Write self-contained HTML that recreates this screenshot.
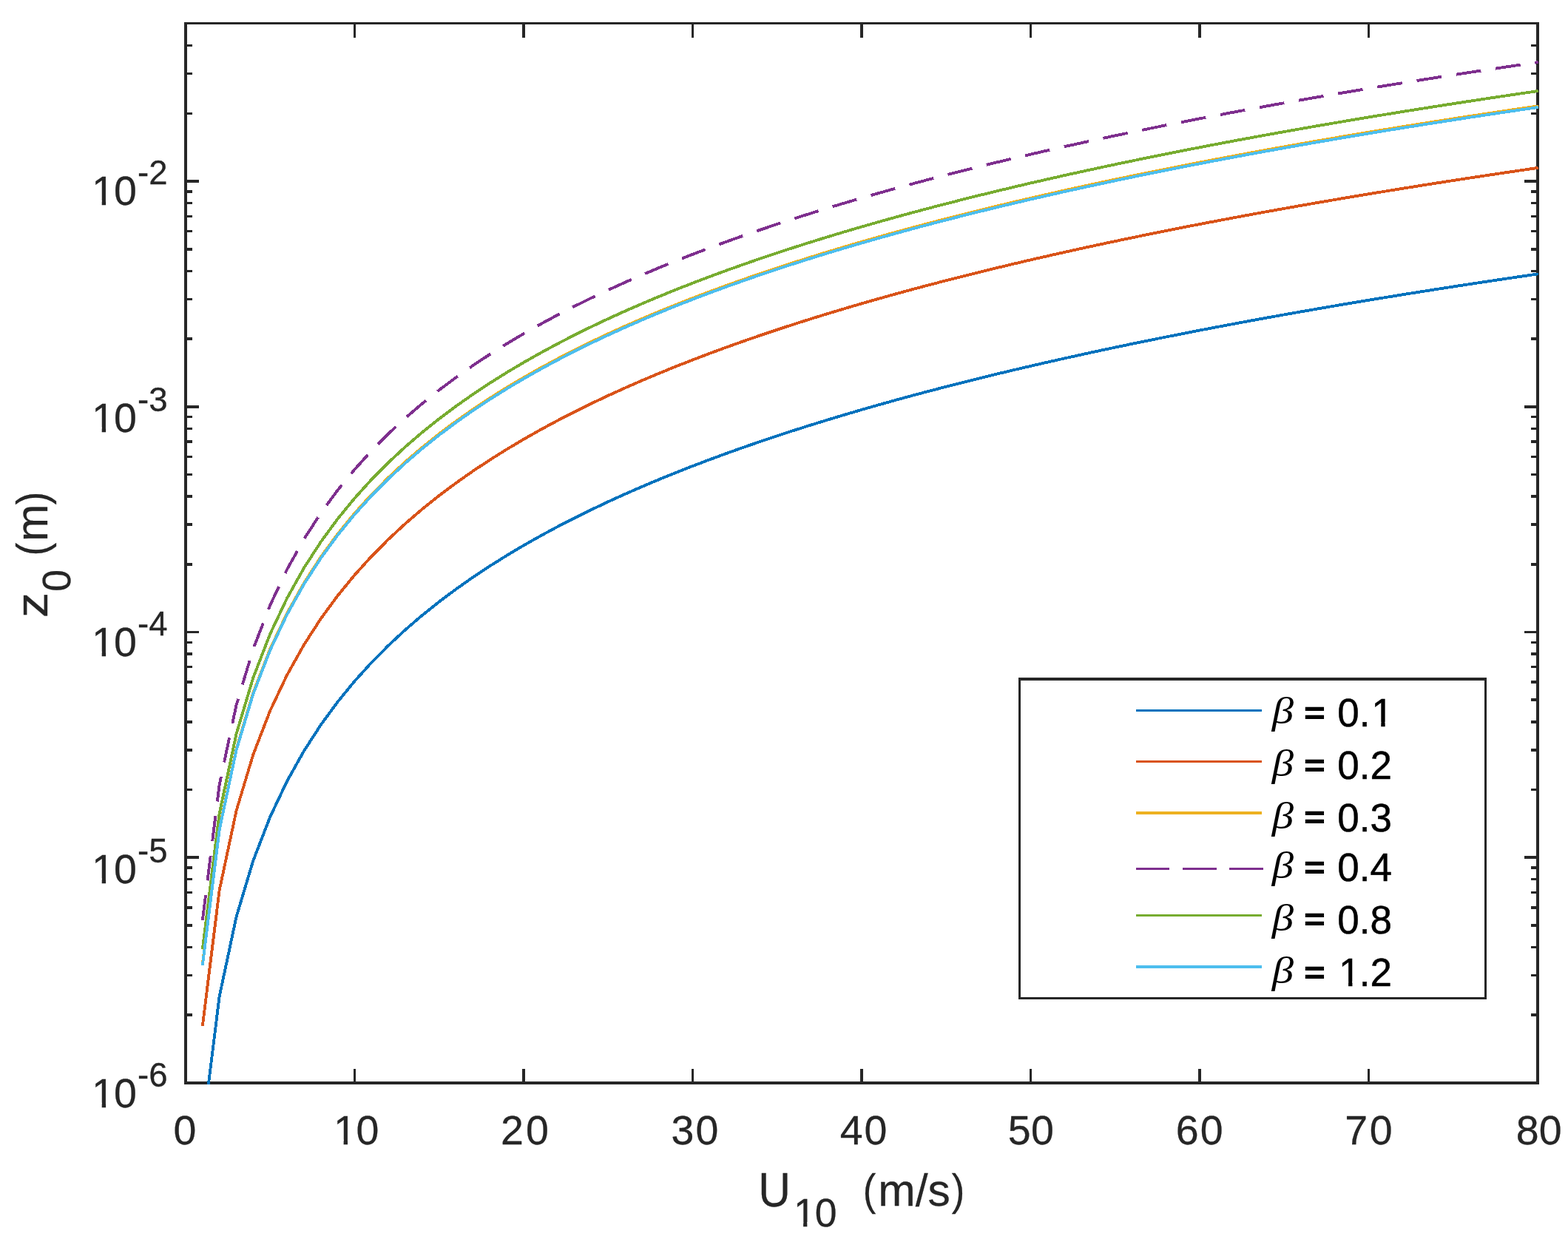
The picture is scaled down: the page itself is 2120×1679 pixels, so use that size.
<!DOCTYPE html>
<html lang="en"><head><meta charset="utf-8"><title>Roughness length z0 versus wind speed U10</title>
<style>html,body{margin:0;padding:0;background:#fff}body{width:2120px;height:1679px;overflow:hidden}svg{display:block}text{font-family:'Liberation Sans',sans-serif;white-space:pre}.b{font-family:'Liberation Serif',serif;font-style:italic}</style></head><body>
<svg width="2120" height="1679" viewBox="0 0 2120 1679">
<rect x="0" y="0" width="2120" height="1679" fill="#ffffff"/>
<defs><clipPath id="plotclip"><rect x="251" y="29.5" width="1829" height="1436.5"/></clipPath>
<clipPath id="c1t"><path clip-rule="evenodd" d="M-500,-300H700V300H-500ZM2.73,-6.45H13.73V2.5H2.73ZM19.09,-6.45H29.66V2.5H19.09Z"/></clipPath><clipPath id="c1s"><path clip-rule="evenodd" d="M-500,-300H700V300H-500ZM2.58,-6.3H13.22V2.5H2.58ZM18.41,-6.3H28.64V2.5H18.41Z"/></clipPath><clipPath id="c1l"><path clip-rule="evenodd" d="M-500,-300H700V300H-500ZM2.54,-6.26H13V2.5H2.54ZM18.34,-6.26H28.39V2.5H18.34Z"/></clipPath></defs>
<g fill="#262626" shape-rendering="crispEdges">
<rect x="249" y="30" width="4" height="1436"/>
<rect x="2077" y="30" width="4" height="1436"/>
<rect x="249" y="30" width="1832" height="3"/>
<rect x="249" y="1462" width="1832" height="4"/>
<rect x="478" y="1445" width="3" height="19"/>
<rect x="478" y="31.5" width="3" height="19.5"/>
<rect x="706" y="1445" width="4" height="19"/>
<rect x="706" y="31.5" width="4" height="19.5"/>
<rect x="935" y="1445" width="3" height="19"/>
<rect x="935" y="31.5" width="3" height="19.5"/>
<rect x="1163" y="1445" width="4" height="19"/>
<rect x="1163" y="31.5" width="4" height="19.5"/>
<rect x="1392" y="1445" width="3" height="19"/>
<rect x="1392" y="31.5" width="3" height="19.5"/>
<rect x="1620" y="1445" width="4" height="19"/>
<rect x="1620" y="31.5" width="4" height="19.5"/>
<rect x="1849" y="1445" width="3" height="19"/>
<rect x="1849" y="31.5" width="3" height="19.5"/>
<rect x="251" y="1370" width="9" height="4"/>
<rect x="2070" y="1370" width="9" height="4"/>
<rect x="251" y="1317" width="9" height="3"/>
<rect x="2070" y="1317" width="9" height="3"/>
<rect x="251" y="1279" width="9" height="3"/>
<rect x="2070" y="1279" width="9" height="3"/>
<rect x="251" y="1249" width="9" height="4"/>
<rect x="2070" y="1249" width="9" height="4"/>
<rect x="251" y="1225" width="9" height="4"/>
<rect x="2070" y="1225" width="9" height="4"/>
<rect x="251" y="1205" width="9" height="3"/>
<rect x="2070" y="1205" width="9" height="3"/>
<rect x="251" y="1187" width="9" height="3"/>
<rect x="2070" y="1187" width="9" height="3"/>
<rect x="251" y="1171" width="9" height="4"/>
<rect x="2070" y="1171" width="9" height="4"/>
<rect x="251" y="1157" width="18" height="4"/>
<rect x="2061" y="1157" width="18" height="4"/>
<rect x="251" y="1066" width="9" height="3"/>
<rect x="2070" y="1066" width="9" height="3"/>
<rect x="251" y="1012" width="9" height="4"/>
<rect x="2070" y="1012" width="9" height="4"/>
<rect x="251" y="974" width="9" height="4"/>
<rect x="2070" y="974" width="9" height="4"/>
<rect x="251" y="944" width="9" height="4"/>
<rect x="2070" y="944" width="9" height="4"/>
<rect x="251" y="920" width="9" height="4"/>
<rect x="2070" y="920" width="9" height="4"/>
<rect x="251" y="900" width="9" height="3"/>
<rect x="2070" y="900" width="9" height="3"/>
<rect x="251" y="882" width="9" height="4"/>
<rect x="2070" y="882" width="9" height="4"/>
<rect x="251" y="867" width="9" height="3"/>
<rect x="2070" y="867" width="9" height="3"/>
<rect x="251" y="853" width="18" height="3"/>
<rect x="2061" y="853" width="18" height="3"/>
<rect x="251" y="761" width="9" height="4"/>
<rect x="2070" y="761" width="9" height="4"/>
<rect x="251" y="707" width="9" height="4"/>
<rect x="2070" y="707" width="9" height="4"/>
<rect x="251" y="669" width="9" height="4"/>
<rect x="2070" y="669" width="9" height="4"/>
<rect x="251" y="640" width="9" height="3"/>
<rect x="2070" y="640" width="9" height="3"/>
<rect x="251" y="616" width="9" height="3"/>
<rect x="2070" y="616" width="9" height="3"/>
<rect x="251" y="595" width="9" height="4"/>
<rect x="2070" y="595" width="9" height="4"/>
<rect x="251" y="578" width="9" height="3"/>
<rect x="2070" y="578" width="9" height="3"/>
<rect x="251" y="562" width="9" height="3"/>
<rect x="2070" y="562" width="9" height="3"/>
<rect x="251" y="548" width="18" height="4"/>
<rect x="2061" y="548" width="18" height="4"/>
<rect x="251" y="456" width="9" height="4"/>
<rect x="2070" y="456" width="9" height="4"/>
<rect x="251" y="403" width="9" height="3"/>
<rect x="2070" y="403" width="9" height="3"/>
<rect x="251" y="365" width="9" height="3"/>
<rect x="2070" y="365" width="9" height="3"/>
<rect x="251" y="335" width="9" height="4"/>
<rect x="2070" y="335" width="9" height="4"/>
<rect x="251" y="311" width="9" height="3"/>
<rect x="2070" y="311" width="9" height="3"/>
<rect x="251" y="291" width="9" height="3"/>
<rect x="2070" y="291" width="9" height="3"/>
<rect x="251" y="273" width="9" height="3"/>
<rect x="2070" y="273" width="9" height="3"/>
<rect x="251" y="257" width="9" height="4"/>
<rect x="2070" y="257" width="9" height="4"/>
<rect x="251" y="243" width="18" height="4"/>
<rect x="2061" y="243" width="18" height="4"/>
<rect x="251" y="152" width="9" height="3"/>
<rect x="2070" y="152" width="9" height="3"/>
<rect x="251" y="98" width="9" height="3"/>
<rect x="2070" y="98" width="9" height="3"/>
<rect x="251" y="60" width="9" height="3"/>
<rect x="2070" y="60" width="9" height="3"/>
</g>
<g clip-path="url(#plotclip)" fill="none" stroke-width="3.9" stroke-linejoin="round" stroke-linecap="butt" shape-rendering="crispEdges">
<polyline stroke="#0072BD" points="273.85,1530.18 296.7,1346.73 319.55,1239.42 342.4,1163.29 365.25,1104.23 388.1,1055.98 410.95,1015.18 433.8,979.84 456.65,948.67 479.5,920.78 502.35,895.56 525.2,872.53 548.05,851.34 570.9,831.73 593.75,813.47 616.6,796.39 639.45,780.35 662.3,765.22 685.15,750.91 708,737.33 730.85,724.42 753.7,712.11 776.55,700.34 799.4,689.08 822.25,678.28 845.1,667.9 867.95,657.91 890.8,648.28 913.65,639 936.5,630.02 959.35,621.34 982.2,612.94 1005.05,604.8 1027.9,596.9 1050.75,589.23 1073.6,581.77 1096.45,574.52 1119.3,567.46 1142.15,560.59 1165,553.89 1187.85,547.35 1210.7,540.97 1233.55,534.74 1256.4,528.66 1279.25,522.71 1302.1,516.9 1324.95,511.2 1347.8,505.63 1370.65,500.18 1393.5,494.83 1416.35,489.59 1439.2,484.45 1462.05,479.41 1484.9,474.46 1507.75,469.6 1530.6,464.83 1553.45,460.15 1576.3,455.55 1599.15,451.02 1622,446.58 1644.85,442.2 1667.7,437.9 1690.55,433.66 1713.4,429.49 1736.25,425.39 1759.1,421.35 1781.95,417.37 1804.8,413.45 1827.65,409.59 1850.5,405.78 1873.35,402.02 1896.2,398.32 1919.05,394.67 1941.9,391.07 1964.75,387.52 1987.6,384.01 2010.45,380.55 2033.3,377.14 2056.15,373.77 2079,370.44 2079.7,370.34"/>
<polyline stroke="#D95319" points="273.85,1386.68 296.7,1203.23 319.55,1095.92 342.4,1019.78 365.25,960.73 388.1,912.47 410.95,871.68 433.8,836.34 456.65,805.16 479.5,777.28 502.35,752.05 525.2,729.03 548.05,707.84 570.9,688.23 593.75,669.97 616.6,652.89 639.45,636.84 662.3,621.72 685.15,607.41 708,593.83 730.85,580.92 753.7,568.61 776.55,556.84 799.4,545.58 822.25,534.77 845.1,524.39 867.95,514.41 890.8,504.78 913.65,495.49 936.5,486.52 959.35,477.84 982.2,469.44 1005.05,461.3 1027.9,453.4 1050.75,445.72 1073.6,438.27 1096.45,431.02 1119.3,423.96 1142.15,417.08 1165,410.38 1187.85,403.85 1210.7,397.47 1233.55,391.24 1256.4,385.16 1279.25,379.21 1302.1,373.39 1324.95,367.7 1347.8,362.13 1370.65,356.67 1393.5,351.33 1416.35,346.09 1439.2,340.95 1462.05,335.9 1484.9,330.96 1507.75,326.1 1530.6,321.33 1553.45,316.65 1576.3,312.05 1599.15,307.52 1622,303.07 1644.85,298.7 1667.7,294.39 1690.55,290.16 1713.4,285.99 1736.25,281.89 1759.1,277.85 1781.95,273.87 1804.8,269.95 1827.65,266.08 1850.5,262.28 1873.35,258.52 1896.2,254.82 1919.05,251.17 1941.9,247.57 1964.75,244.02 1987.6,240.51 2010.45,237.05 2033.3,233.64 2056.15,230.26 2079,226.94 2079.7,226.83"/>
<polyline stroke="#EDB120" points="273.85,1303.17 296.7,1119.72 319.55,1012.41 342.4,936.28 365.25,877.22 388.1,828.97 410.95,788.17 433.8,752.83 456.65,721.66 479.5,693.77 502.35,668.55 525.2,645.52 548.05,624.33 570.9,604.72 593.75,586.46 616.6,569.38 639.45,553.33 662.3,538.21 685.15,523.9 708,510.32 730.85,497.41 753.7,485.1 776.55,473.33 799.4,462.07 822.25,451.27 845.1,440.89 867.95,430.9 890.8,421.27 913.65,411.99 936.5,403.01 959.35,394.33 982.2,385.93 1005.05,377.79 1027.9,369.89 1050.75,362.22 1073.6,354.76 1096.45,347.51 1119.3,340.45 1142.15,333.58 1165,326.88 1187.85,320.34 1210.7,313.96 1233.55,307.73 1256.4,301.65 1279.25,295.7 1302.1,289.89 1324.95,284.19 1347.8,278.62 1370.65,273.16 1393.5,267.82 1416.35,262.58 1439.2,257.44 1462.05,252.4 1484.9,247.45 1507.75,242.59 1530.6,237.82 1553.45,233.14 1576.3,228.54 1599.15,224.01 1622,219.57 1644.85,215.19 1667.7,210.89 1690.55,206.65 1713.4,202.48 1736.25,198.38 1759.1,194.34 1781.95,190.36 1804.8,186.44 1827.65,182.58 1850.5,178.77 1873.35,175.01 1896.2,171.31 1919.05,167.66 1941.9,164.06 1964.75,160.51 1987.6,157 2010.45,153.54 2033.3,150.13 2056.15,146.76 2079,143.43 2079.7,143.33"/>
<polyline stroke="#7E2F8E" stroke-dasharray="33.9 20" points="273.85,1243.96 296.7,1060.52 319.55,953.21 342.4,877.07 365.25,818.01 388.1,769.76 410.95,728.96 433.8,693.62 456.65,662.45 479.5,634.56 502.35,609.34 525.2,586.31 548.05,565.13 570.9,545.51 593.75,527.25 616.6,510.17 639.45,494.13 662.3,479 685.15,464.69 708,451.12 730.85,438.2 753.7,425.89 776.55,414.13 799.4,402.86 822.25,392.06 845.1,381.68 867.95,371.69 890.8,362.07 913.65,352.78 936.5,343.81 959.35,335.13 982.2,326.73 1005.05,318.58 1027.9,310.68 1050.75,303.01 1073.6,295.55 1096.45,288.3 1119.3,281.24 1142.15,274.37 1165,267.67 1187.85,261.13 1210.7,254.76 1233.55,248.53 1256.4,242.44 1279.25,236.5 1302.1,230.68 1324.95,224.99 1347.8,219.42 1370.65,213.96 1393.5,208.61 1416.35,203.37 1439.2,198.23 1462.05,193.19 1484.9,188.24 1507.75,183.39 1530.6,178.62 1553.45,173.93 1576.3,169.33 1599.15,164.81 1622,160.36 1644.85,155.98 1667.7,151.68 1690.55,147.45 1713.4,143.28 1736.25,139.17 1759.1,135.13 1781.95,131.15 1804.8,127.23 1827.65,123.37 1850.5,119.56 1873.35,115.81 1896.2,112.11 1919.05,108.46 1941.9,104.85 1964.75,101.3 1987.6,97.8 2010.45,94.34 2033.3,90.92 2056.15,87.55 2079,84.22 2079.7,84.12"/>
<polyline stroke="#77AC30" points="273.85,1282.86 296.7,1099.41 319.55,992.1 342.4,915.96 365.25,856.9 388.1,808.65 410.95,767.85 433.8,732.51 456.65,701.34 479.5,673.46 502.35,648.23 525.2,625.2 548.05,604.02 570.9,584.41 593.75,566.15 616.6,549.07 639.45,533.02 662.3,517.89 685.15,503.58 708,490.01 730.85,477.1 753.7,464.78 776.55,453.02 799.4,441.76 822.25,430.95 845.1,420.57 867.95,410.58 890.8,400.96 913.65,391.67 936.5,382.7 959.35,374.02 982.2,365.62 1005.05,357.47 1027.9,349.57 1050.75,341.9 1073.6,334.45 1096.45,327.19 1119.3,320.14 1142.15,313.26 1165,306.56 1187.85,300.03 1210.7,293.65 1233.55,287.42 1256.4,281.34 1279.25,275.39 1302.1,269.57 1324.95,263.88 1347.8,258.31 1370.65,252.85 1393.5,247.5 1416.35,242.26 1439.2,237.12 1462.05,232.08 1484.9,227.14 1507.75,222.28 1530.6,217.51 1553.45,212.83 1576.3,208.22 1599.15,203.7 1622,199.25 1644.85,194.88 1667.7,190.57 1690.55,186.34 1713.4,182.17 1736.25,178.07 1759.1,174.03 1781.95,170.05 1804.8,166.13 1827.65,162.26 1850.5,158.45 1873.35,154.7 1896.2,151 1919.05,147.35 1941.9,143.75 1964.75,140.19 1987.6,136.69 2010.45,133.23 2033.3,129.81 2056.15,126.44 2079,123.11 2079.7,123.01"/>
<polyline stroke="#4DBEEE" points="273.85,1304.85 296.7,1121.4 319.55,1014.09 342.4,937.96 365.25,878.9 388.1,830.65 410.95,789.85 433.8,754.51 456.65,723.34 479.5,695.45 502.35,670.23 525.2,647.2 548.05,626.01 570.9,606.4 593.75,588.14 616.6,571.06 639.45,555.01 662.3,539.89 685.15,525.58 708,512 730.85,499.09 753.7,486.78 776.55,475.01 799.4,463.75 822.25,452.95 845.1,442.57 867.95,432.58 890.8,422.95 913.65,413.67 936.5,404.69 959.35,396.01 982.2,387.61 1005.05,379.47 1027.9,371.57 1050.75,363.9 1073.6,356.44 1096.45,349.19 1119.3,342.13 1142.15,335.26 1165,328.56 1187.85,322.02 1210.7,315.64 1233.55,309.41 1256.4,303.33 1279.25,297.38 1302.1,291.57 1324.95,285.87 1347.8,280.3 1370.65,274.84 1393.5,269.5 1416.35,264.26 1439.2,259.12 1462.05,254.08 1484.9,249.13 1507.75,244.27 1530.6,239.5 1553.45,234.82 1576.3,230.22 1599.15,225.69 1622,221.25 1644.85,216.87 1667.7,212.57 1690.55,208.33 1713.4,204.16 1736.25,200.06 1759.1,196.02 1781.95,192.04 1804.8,188.12 1827.65,184.26 1850.5,180.45 1873.35,176.69 1896.2,172.99 1919.05,169.34 1941.9,165.74 1964.75,162.19 1987.6,158.68 2010.45,155.22 2033.3,151.81 2056.15,148.44 2079,145.11 2079.7,145.01"/>
</g>
<g font-size="55.5" fill="#262626" stroke="#262626" stroke-width="0.3">
<text><tspan x="234.6" y="1547">0</tspan></text>
<text transform="translate(450.9 1547)" clip-path="url(#c1t)"><tspan x="0" y="0">1</tspan><tspan x="30.5" y="0">0</tspan></text>
<text><tspan x="677" y="1547">2</tspan><tspan x="711.1" y="1547">0</tspan></text>
<text><tspan x="907.5" y="1547">3</tspan><tspan x="940.4" y="1547">0</tspan></text>
<text><tspan x="1135.7" y="1547">4</tspan><tspan x="1168.4" y="1547">0</tspan></text>
<text><tspan x="1362.7" y="1547">5</tspan><tspan x="1393.9" y="1547">0</tspan></text>
<text><tspan x="1589.7" y="1547">6</tspan><tspan x="1622.7" y="1547">0</tspan></text>
<text><tspan x="1818.2" y="1547">7</tspan><tspan x="1851.7" y="1547">0</tspan></text>
<text><tspan x="2049.7" y="1547">8</tspan><tspan x="2080.7" y="1547">0</tspan></text>
</g>
<g font-size="55.5" fill="#262626" stroke="#262626" stroke-width="0.3">
<text transform="translate(124 277.4)" clip-path="url(#c1t)"><tspan x="0" y="0">1</tspan><tspan x="30.07" y="0">0</tspan><tspan x="62" y="-28" font-size="45.5">-2</tspan></text>
<text transform="translate(124 583.9)" clip-path="url(#c1t)"><tspan x="0" y="0">1</tspan><tspan x="30.07" y="0">0</tspan><tspan x="62" y="-28" font-size="45.5">-3</tspan></text>
<text transform="translate(124 887.1)" clip-path="url(#c1t)"><tspan x="0" y="0">1</tspan><tspan x="30.07" y="0">0</tspan><tspan x="62" y="-28" font-size="45.5">-4</tspan></text>
<text transform="translate(124 1193.8)" clip-path="url(#c1t)"><tspan x="0" y="0">1</tspan><tspan x="30.07" y="0">0</tspan><tspan x="62" y="-28" font-size="45.5">-5</tspan></text>
<text transform="translate(124 1497.3)" clip-path="url(#c1t)"><tspan x="0" y="0">1</tspan><tspan x="30.07" y="0">0</tspan><tspan x="62" y="-28" font-size="45.5">-6</tspan></text>
</g>
<text transform="translate(1072.9 1658.4)" clip-path="url(#c1s)" font-size="60.5" fill="#262626" stroke="#262626" stroke-width="0.3"><tspan x="-47.6" y="-27.9" font-size="64.13" textLength="43.69" lengthAdjust="spacingAndGlyphs">U</tspan><tspan x="0" y="0" font-size="53.5">1</tspan><tspan x="28.95" y="0" font-size="53.5">0</tspan><tspan x="67.1" y="-28.7"> </tspan><tspan x="93.95" y="-29.1" font-size="59.59" textLength="17.47" lengthAdjust="spacingAndGlyphs">(</tspan><tspan x="114.4" y="-28.7">m/s</tspan><tspan x="213.8" y="-29.1" font-size="59.59" textLength="17.47" lengthAdjust="spacingAndGlyphs">)</tspan></text>
<text transform="translate(64.2 834.9) rotate(-90)" font-size="60.5" fill="#262626" stroke="#262626" stroke-width="0.3"><tspan x="0" y="0" font-size="60.5" textLength="34.18" lengthAdjust="spacingAndGlyphs">z</tspan><tspan x="35.1" y="31.2" font-size="53.5">0</tspan><tspan x="64.9" y="0"> </tspan><tspan x="83.65" y="-0.4" font-size="59.59" textLength="17.47" lengthAdjust="spacingAndGlyphs">(</tspan><tspan x="102.8" y="0">m</tspan><tspan x="152.6" y="-0.4" font-size="59.59" textLength="17.47" lengthAdjust="spacingAndGlyphs">)</tspan></text>
<rect x="1378" y="917" width="631" height="433" fill="#ffffff"/>
<g fill="#262626" shape-rendering="crispEdges">
<rect x="1377" y="916" width="3" height="435"/>
<rect x="2007" y="916" width="3" height="435"/>
<rect x="1377" y="916" width="633" height="4"/>
<rect x="1377" y="1348" width="633" height="3"/>
</g>
<g shape-rendering="crispEdges">
<g fill="#0072BD"><rect x="1536" y="959" width="170" height="3"/></g>
<g fill="#D95319"><rect x="1536" y="1028" width="170" height="3"/></g>
<g fill="#EDB120"><rect x="1536" y="1097" width="170" height="4"/></g>
<g fill="#7E2F8E"><rect x="1536" y="1173" width="45" height="3"/><rect x="1599" y="1173" width="46" height="3"/><rect x="1662" y="1173" width="46" height="3"/></g>
<g fill="#77AC30"><rect x="1536" y="1236" width="170" height="3"/></g>
<g fill="#4DBEEE"><rect x="1536" y="1305" width="170" height="4"/></g>
</g>
<g fill="#000000" stroke="#000000" stroke-width="0.5" font-size="53.0">
<text transform="translate(1854.28 981.9)" clip-path="url(#c1l)"><tspan x="-134.43" y="-3.8" class="b" stroke="none" font-size="51.1" textLength="29.27" lengthAdjust="spacingAndGlyphs">β</tspan><tspan x="-104.28" y="0"> </tspan><tspan x="-90.68" y="-4.3" stroke-width="1.9" font-size="43.99" textLength="27.86" lengthAdjust="spacingAndGlyphs">=</tspan><tspan x="-59.28" y="0"> </tspan><tspan x="-46.1" y="0">0</tspan><tspan x="-16.63" y="0">.</tspan><tspan x="0" y="0">1</tspan></text>
<text><tspan x="1719.85" y="1049" class="b" stroke="none" font-size="51.1" textLength="29.27" lengthAdjust="spacingAndGlyphs">β</tspan><tspan x="1750" y="1052.8"> </tspan><tspan x="1763.6" y="1048.5" stroke-width="1.9" font-size="43.99" textLength="27.86" lengthAdjust="spacingAndGlyphs">=</tspan><tspan x="1795" y="1052.8"> </tspan><tspan x="1808.18" y="1052.8">0</tspan><tspan x="1837.65" y="1052.8">.</tspan><tspan x="1852.38" y="1052.8">2</tspan></text>
<text><tspan x="1719.85" y="1119.9" class="b" stroke="none" font-size="51.1" textLength="29.27" lengthAdjust="spacingAndGlyphs">β</tspan><tspan x="1750" y="1123.7"> </tspan><tspan x="1763.6" y="1119.4" stroke-width="1.9" font-size="43.99" textLength="27.86" lengthAdjust="spacingAndGlyphs">=</tspan><tspan x="1795" y="1123.7"> </tspan><tspan x="1808.18" y="1123.7">0</tspan><tspan x="1837.65" y="1123.7">.</tspan><tspan x="1852.38" y="1123.7">3</tspan></text>
<text><tspan x="1719.85" y="1187.1" class="b" stroke="none" font-size="51.1" textLength="29.27" lengthAdjust="spacingAndGlyphs">β</tspan><tspan x="1750" y="1190.9"> </tspan><tspan x="1763.6" y="1186.6" stroke-width="1.9" font-size="43.99" textLength="27.86" lengthAdjust="spacingAndGlyphs">=</tspan><tspan x="1795" y="1190.9"> </tspan><tspan x="1808.18" y="1190.9">0</tspan><tspan x="1837.65" y="1190.9">.</tspan><tspan x="1852.38" y="1190.9">4</tspan></text>
<text><tspan x="1719.85" y="1257.9" class="b" stroke="none" font-size="51.1" textLength="29.27" lengthAdjust="spacingAndGlyphs">β</tspan><tspan x="1750" y="1261.7"> </tspan><tspan x="1763.6" y="1257.4" stroke-width="1.9" font-size="43.99" textLength="27.86" lengthAdjust="spacingAndGlyphs">=</tspan><tspan x="1795" y="1261.7"> </tspan><tspan x="1808.18" y="1261.7">0</tspan><tspan x="1837.65" y="1261.7">.</tspan><tspan x="1852.38" y="1261.7">8</tspan></text>
<text transform="translate(1810.08 1332.8)" clip-path="url(#c1l)"><tspan x="-90.23" y="-3.8" class="b" stroke="none" font-size="51.1" textLength="29.27" lengthAdjust="spacingAndGlyphs">β</tspan><tspan x="-60.08" y="0"> </tspan><tspan x="-46.48" y="-4.3" stroke-width="1.9" font-size="43.99" textLength="27.86" lengthAdjust="spacingAndGlyphs">=</tspan><tspan x="-15.08" y="0"> </tspan><tspan x="0" y="0">1</tspan><tspan x="27.58" y="0">.</tspan><tspan x="42.3" y="0">2</tspan></text>
</g>
</svg></body></html>
